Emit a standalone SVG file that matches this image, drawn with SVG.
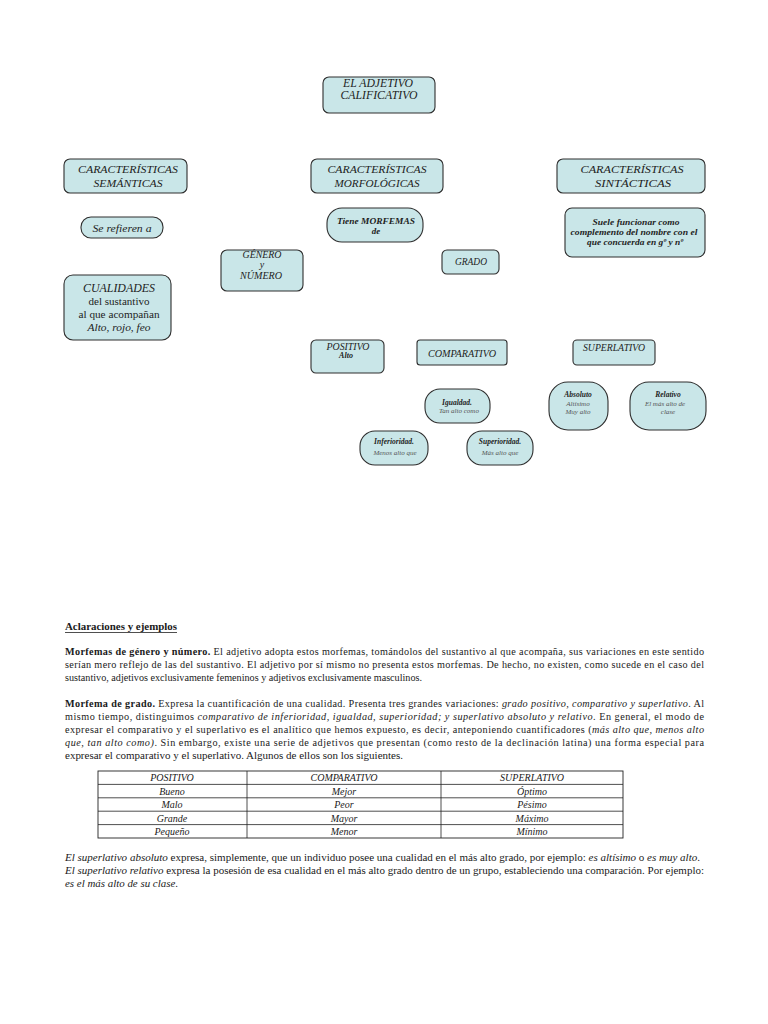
<svg xmlns="http://www.w3.org/2000/svg" width="768" height="1024" viewBox="0 0 768 1024">
<style>
.box{fill:#c9e6e8;stroke:#2e2e2e;stroke-width:1.1}
.t{font-family:"Liberation Serif",serif;font-style:italic;fill:#1e1e1e;text-anchor:middle}
.b{font-weight:bold}
.g{fill:#555}
.p{font-family:"Liberation Serif",serif;font-size:10.2px;fill:#1a1a1a}
.i{font-style:italic}
.tb{font-family:"Liberation Serif",serif;font-style:italic;font-size:10px;fill:#1a1a1a;text-anchor:middle}
.ln{stroke:#222;stroke-width:0.8;fill:none}
</style>
<rect width="768" height="1024" fill="#ffffff"/>
<g id="connectors"/>
<g id="n-adjetivo">
<rect class="box" x="323" y="77" width="112" height="36" rx="6"/>
<text class="t" x="378" y="87" font-size="11.5" textLength="70" lengthAdjust="spacingAndGlyphs">EL ADJETIVO</text>
<text class="t" x="379" y="99" font-size="11.5" textLength="77" lengthAdjust="spacingAndGlyphs">CALIFICATIVO</text>
</g>
<g id="n-semanticas">
<rect class="box" x="64" y="159" width="123" height="34" rx="6"/>
<text class="t" x="128" y="173" font-size="11" textLength="100" lengthAdjust="spacingAndGlyphs">CARACTERÍSTICAS</text>
<text class="t" x="128" y="187" font-size="11" textLength="69" lengthAdjust="spacingAndGlyphs">SEMÁNTICAS</text>
</g>
<g id="n-morfologicas">
<rect class="box" x="311" y="159" width="132" height="34" rx="6"/>
<text class="t" x="377" y="173" font-size="11" textLength="99" lengthAdjust="spacingAndGlyphs">CARACTERÍSTICAS</text>
<text class="t" x="377" y="187" font-size="11" textLength="85" lengthAdjust="spacingAndGlyphs">MORFOLÓGICAS</text>
</g>
<g id="n-sintacticas">
<rect class="box" x="557" y="159" width="148" height="34" rx="6"/>
<text class="t" x="632" y="173" font-size="11" textLength="103" lengthAdjust="spacingAndGlyphs">CARACTERÍSTICAS</text>
<text class="t" x="633" y="187" font-size="11" textLength="76" lengthAdjust="spacingAndGlyphs">SINTÁCTICAS</text>
</g>
<g id="n-serefieren">
<rect class="box" x="81" y="217" width="82" height="21" rx="10"/>
<text class="t" x="122" y="232" font-size="10" textLength="59" lengthAdjust="spacingAndGlyphs">Se refieren a</text>
</g>
<g id="n-morfemas">
<rect class="box" x="327" y="208" width="96" height="34" rx="15"/>
<text class="t b" x="376" y="224" font-size="9" textLength="78" lengthAdjust="spacingAndGlyphs">Tiene MORFEMAS</text>
<text class="t b" x="376" y="234" font-size="9">de</text>
</g>
<g id="n-suele">
<rect class="box" x="565" y="208" width="140" height="49" rx="7"/>
<text class="t b" x="636" y="225" font-size="8.5" textLength="87" lengthAdjust="spacingAndGlyphs">Suele funcionar como</text>
<text class="t b" x="634" y="235" font-size="8.5" textLength="127" lengthAdjust="spacingAndGlyphs">complemento del nombre con el</text>
<text class="t b" x="635" y="245" font-size="8.5" textLength="96" lengthAdjust="spacingAndGlyphs">que concuerda en gº y nº</text>
</g>
<g id="n-genero">
<rect class="box" x="221" y="250" width="82" height="41" rx="6"/>
<text class="t" x="262" y="258" font-size="10" textLength="39" lengthAdjust="spacingAndGlyphs">GÉNERO</text>
<text class="t" x="262" y="268" font-size="10">y</text>
<text class="t" x="261" y="279" font-size="10" textLength="42" lengthAdjust="spacingAndGlyphs">NÚMERO</text>
</g>
<g id="n-grado">
<rect class="box" x="442" y="250" width="57" height="24" rx="5"/>
<text class="t" x="471" y="265" font-size="10" textLength="32" lengthAdjust="spacingAndGlyphs">GRADO</text>
</g>
<g id="n-cualidades">
<rect class="box" x="64" y="275" width="107" height="65" rx="9"/>
<text class="t" x="119" y="292" font-size="11.5" textLength="72" lengthAdjust="spacingAndGlyphs">CUALIDADES</text>
<text class="t" x="119" y="305" font-size="11" font-style="normal" style="font-style:normal" textLength="61" lengthAdjust="spacingAndGlyphs">del sustantivo</text>
<text class="t" x="119" y="318" font-size="11" style="font-style:normal" textLength="81" lengthAdjust="spacingAndGlyphs">al que acompañan</text>
<text class="t" x="119" y="331" font-size="11" textLength="63" lengthAdjust="spacingAndGlyphs">Alto, rojo, feo</text>
</g>
<g id="n-positivo">
<rect class="box" x="311" y="340" width="73" height="33" rx="5"/>
<text class="t" x="348" y="350" font-size="9.5" textLength="43" lengthAdjust="spacingAndGlyphs">POSITIVO</text>
<text class="t b" x="346" y="358" font-size="8">Alto</text>
</g>
<g id="n-comparativo">
<rect class="box" x="417" y="340" width="90" height="25" rx="3"/>
<text class="t" x="462" y="357" font-size="10.5" textLength="68" lengthAdjust="spacingAndGlyphs">COMPARATIVO</text>
</g>
<g id="n-superlativo">
<rect class="box" x="573" y="340" width="82" height="25" rx="4"/>
<text class="t" x="614" y="351" font-size="10" textLength="62" lengthAdjust="spacingAndGlyphs">SUPERLATIVO</text>
</g>
<g id="n-igualdad">
<rect class="box" x="425" y="389" width="65" height="34" rx="15"/>
<text class="t b" x="457" y="405" font-size="7.5">Igualdad.</text>
<text class="t g" x="459" y="413" font-size="7">Tan alto como</text>
</g>
<g id="n-absoluto">
<rect class="box" x="549" y="382" width="59" height="48" rx="19"/>
<text class="t b" x="578" y="397" font-size="7.5">Absoluto</text>
<text class="t g" x="578" y="406" font-size="7">Altísimo</text>
<text class="t g" x="578" y="414" font-size="7">Muy alto</text>
</g>
<g id="n-relativo">
<rect class="box" x="630" y="382" width="76" height="48" rx="19"/>
<text class="t b" x="668" y="397" font-size="7.5">Relativo</text>
<text class="t g" x="665" y="406" font-size="7">El más alto de</text>
<text class="t g" x="668" y="414" font-size="7">clase</text>
</g>
<g id="n-inferioridad">
<rect class="box" x="360" y="431" width="68" height="34" rx="15"/>
<text class="t b" x="394" y="444" font-size="7.5">Inferioridad.</text>
<text class="t g" x="395" y="455" font-size="7">Menos alto que</text>
</g>
<g id="n-superioridad">
<rect class="box" x="467" y="431" width="66" height="34" rx="15"/>
<text class="t b" x="500" y="444" font-size="7.5">Superioridad.</text>
<text class="t g" x="500" y="455" font-size="7">Más alto que</text>
</g>

<g id="texto">
<text class="p b" x="65" y="630" textLength="112" lengthAdjust="spacingAndGlyphs">Aclaraciones y ejemplos</text>
<line class="ln" x1="65" y1="632.5" x2="177" y2="632.5"/>

<text class="p" x="65" y="655" textLength="639" lengthAdjust="spacing"><tspan font-weight="bold">Morfemas de género y número.</tspan> El adjetivo adopta estos morfemas, tomándolos del sustantivo al que acompaña, sus variaciones en este sentido</text>
<text class="p" x="65" y="668" textLength="639" lengthAdjust="spacing">serían mero reflejo de las del sustantivo. El adjetivo por sí mismo no presenta estos morfemas. De hecho, no existen, como sucede en el caso del</text>
<text class="p" x="65" y="681" textLength="357" lengthAdjust="spacingAndGlyphs">sustantivo, adjetivos exclusivamente femeninos y adjetivos exclusivamente masculinos.</text>

<text class="p" x="65" y="707" textLength="639" lengthAdjust="spacing"><tspan font-weight="bold">Morfema de grado.</tspan> Expresa la cuantificación de una cualidad. Presenta tres grandes variaciones: <tspan class="i">grado positivo, comparativo y superlativo</tspan>. Al</text>
<text class="p" x="65" y="720" textLength="639" lengthAdjust="spacing">mismo tiempo, distinguimos <tspan class="i">comparativo de inferioridad, igualdad, superioridad; y superlativo absoluto y relativo</tspan>. En general, el modo de</text>
<text class="p" x="65" y="733" textLength="639" lengthAdjust="spacing">expresar el comparativo y el superlativo es el analítico que hemos expuesto, es decir, anteponiendo cuantificadores (<tspan class="i">más alto que, menos alto</tspan></text>
<text class="p" x="65" y="746" textLength="639" lengthAdjust="spacing"><tspan class="i">que, tan alto como)</tspan>. Sin embargo, existe una serie de adjetivos que presentan (como resto de la declinación latina) una forma especial para</text>
<text class="p" x="65" y="759" textLength="338" lengthAdjust="spacingAndGlyphs">expresar el comparativo y el superlativo. Algunos de ellos son  los siguientes.</text>

<text class="p" x="65" y="861" textLength="635" lengthAdjust="spacingAndGlyphs"><tspan class="i">El superlativo absoluto</tspan> expresa, simplemente, que un individuo posee una cualidad en el más alto grado, por ejemplo: <tspan class="i">es altísimo</tspan> o <tspan class="i">es muy alto</tspan>.</text>
<text class="p" x="65" y="874" textLength="639" lengthAdjust="spacingAndGlyphs"><tspan class="i">El superlativo relativo</tspan> expresa la posesión de esa cualidad en el más alto grado dentro de un grupo, estableciendo una comparación. Por ejemplo:</text>
<text class="p" x="65" y="887" textLength="113" lengthAdjust="spacingAndGlyphs"><tspan class="i">es el más alto de su clase</tspan>.</text>
</g>

<g id="tabla">
<rect x="98" y="771" width="525" height="67" fill="none" stroke="#222" stroke-width="0.9"/>
<line class="ln" x1="98" y1="784.4" x2="623" y2="784.4"/>
<line class="ln" x1="98" y1="797.8" x2="623" y2="797.8"/>
<line class="ln" x1="98" y1="811.2" x2="623" y2="811.2"/>
<line class="ln" x1="98" y1="824.6" x2="623" y2="824.6"/>
<line class="ln" x1="247" y1="771" x2="247" y2="838"/>
<line class="ln" x1="441" y1="771" x2="441" y2="838"/>
<text class="tb" x="172" y="781">POSITIVO</text>
<text class="tb" x="344" y="781">COMPARATIVO</text>
<text class="tb" x="532" y="781">SUPERLATIVO</text>
<text class="tb" x="172" y="794.5">Bueno</text>
<text class="tb" x="344" y="794.5">Mejor</text>
<text class="tb" x="532" y="794.5">Óptimo</text>
<text class="tb" x="172" y="808">Malo</text>
<text class="tb" x="344" y="808">Peor</text>
<text class="tb" x="532" y="808">Pésimo</text>
<text class="tb" x="172" y="821.5">Grande</text>
<text class="tb" x="344" y="821.5">Mayor</text>
<text class="tb" x="532" y="821.5">Máximo</text>
<text class="tb" x="172" y="835">Pequeño</text>
<text class="tb" x="344" y="835">Menor</text>
<text class="tb" x="532" y="835">Mínimo</text>
</g>
</svg>
